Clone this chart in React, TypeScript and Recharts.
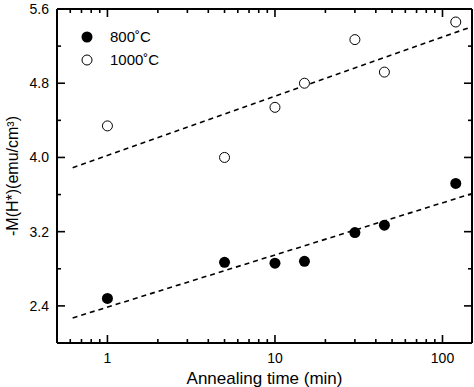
import React from "react";
import { ComposedChart, Scatter, XAxis, YAxis, Legend } from "recharts";

const times = [1, 5, 10, 15, 30, 45, 120];
const values800 = [2.48, 2.87, 2.86, 2.88, 3.19, 3.27, 3.72];
const values1000 = [4.34, 4.0, 4.54, 4.8, 5.27, 4.92, 5.46];
const fitX = [0.62, 150];
const fit800 = [2.27, 3.61];
const fit1000 = [3.89, 5.41];

const xTicks = [0.6, 0.7, 0.8, 0.9, 1, 2, 3, 4, 5, 6, 7, 8, 9, 10, 20, 30, 40, 50, 60, 70, 80, 90, 100];
const xMajor = [1, 10, 100];
const yTicks = [2.0, 2.4, 2.8, 3.2, 3.6, 4.0, 4.4, 4.8, 5.2, 5.6];
const yMajor = [2.4, 3.2, 4.0, 4.8, 5.6];

const data800 = times.map((t, i) => ({ x: t, y: values800[i] }));
const data1000 = times.map((t, i) => ({ x: t, y: values1000[i] }));
const line800 = fitX.map((t, i) => ({ x: t, y: fit800[i] }));
const line1000 = fitX.map((t, i) => ({ x: t, y: fit1000[i] }));

const FONT = '"Liberation Sans", Arial, sans-serif';
const MAJ = 8;
const MIN = 4;
const TW = 1.6;

const isYMajor = (v: number) => yMajor.some((m) => Math.abs(m - v) < 1e-6);

const BottomTick = (p: any) => {
  const v = p.payload.value;
  const major = xMajor.includes(v);
  const x = Number(p.x);
  const y = Number(p.y);
  const len = major ? MAJ : MIN;
  return (
    <g>
      <rect x={x - TW / 2} y={y - len} width={TW} height={len} fill="#000" />
      {major && (
        <text x={x} y={y + 20} textAnchor="middle" fontSize={14} fontFamily={FONT} fill="#000">
          {v}
        </text>
      )}
    </g>
  );
};
const TopTick = (p: any) => {
  const v = p.payload.value;
  const major = xMajor.includes(v);
  const x = Number(p.x);
  const y = Number(p.y);
  return <rect x={x - TW / 2} y={y} width={TW} height={major ? MAJ : MIN} fill="#000" />;
};
const LeftTick = (p: any) => {
  const v = p.payload.value;
  const major = isYMajor(v);
  const x = Number(p.x);
  const y = Number(p.y);
  return (
    <g>
      <rect x={x} y={y - TW / 2} width={major ? MAJ : MIN} height={TW} fill="#000" />
      {major && (
        <text x={x - 8} y={y + 5} textAnchor="end" fontSize={14} fontFamily={FONT} fill="#000">
          {v.toFixed(1)}
        </text>
      )}
    </g>
  );
};
const RightTick = (p: any) => {
  const v = p.payload.value;
  const len = isYMajor(v) ? MAJ : MIN;
  const x = Number(p.x);
  const y = Number(p.y);
  return <rect x={x - len} y={y - TW / 2} width={len} height={TW} fill="#000" />;
};

const Filled = (p: any) => <circle cx={p.cx} cy={p.cy} r={5.5} fill="#000" />;
const Open = (p: any) => <circle cx={p.cx} cy={p.cy} r={5} fill="#fff" stroke="#000" strokeWidth={1} />;
const NoShape = () => <g />;

const LegendContent = () => (
  <div style={{ fontFamily: FONT, fontSize: 15, color: "#000" }}>
    {[
      { label: "800˚C", filled: true },
      { label: "1000˚C", filled: false },
    ].map((it) => (
      <div key={it.label} style={{ display: "flex", alignItems: "center", height: 23 }}>
        <svg width={24} height={14}>
          {it.filled ? (
            <circle cx={12} cy={7} r={5.5} fill="#000" />
          ) : (
            <circle cx={12} cy={7} r={5} fill="#fff" stroke="#000" strokeWidth={1} />
          )}
        </svg>
        <span style={{ marginLeft: 11 }}>{it.label}</span>
      </div>
    ))}
  </div>
);

export default function App() {
  return (
    <div style={{ position: "absolute", left: 0, top: 0, background: "#fff" }}>
      <ComposedChart width={474} height={387} margin={{ top: 8, right: 1, bottom: 0, left: 0 }}>
        <XAxis
          xAxisId="b"
          dataKey="x"
          type="number"
          scale="log"
          domain={[0.5, 150]}
          allowDataOverflow
          ticks={xTicks}
          interval={0}
          height={44}
          tickSize={0}
          tickMargin={0}
          tickLine={false}
          tick={<BottomTick />}
          axisLine={{ stroke: "#000", strokeWidth: 2 }}
          label={{ value: "Annealing time (min)", position: "insideBottom", offset: 3, style: { fontFamily: FONT, fontSize: 17, fill: "#000" } }}
        />
        <XAxis
          xAxisId="t"
          orientation="top"
          dataKey="x"
          type="number"
          scale="log"
          domain={[0.5, 150]}
          allowDataOverflow
          ticks={xTicks}
          interval={0}
          height={1}
          tickSize={0}
          tickMargin={0}
          tickLine={false}
          tick={<TopTick />}
          axisLine={{ stroke: "#000", strokeWidth: 2 }}
        />
        <YAxis
          yAxisId="l"
          dataKey="y"
          type="number"
          domain={[2.0, 5.6]}
          allowDataOverflow
          ticks={yTicks}
          interval={0}
          width={57}
          tickSize={0}
          tickMargin={0}
          tickLine={false}
          tick={<LeftTick />}
          axisLine={{ stroke: "#000", strokeWidth: 2 }}
          label={{ value: "-M(H*)(emu/cm³)", angle: -90, position: "insideLeft", offset: 12, style: { textAnchor: "middle", fontFamily: FONT, fontSize: 16, fill: "#000" } }}
        />
        <YAxis
          yAxisId="r"
          orientation="right"
          dataKey="y"
          type="number"
          domain={[2.0, 5.6]}
          allowDataOverflow
          ticks={yTicks}
          interval={0}
          width={1}
          tickSize={0}
          tickMargin={0}
          tickLine={false}
          tick={<RightTick />}
          axisLine={{ stroke: "#000", strokeWidth: 2 }}
        />
        <Legend
          layout="vertical"
          verticalAlign="middle"
          align="center"
          wrapperStyle={{ top: 25, left: 75, width: 150 }}
          content={<LegendContent />}
        />
        <Scatter xAxisId="b" yAxisId="l" data={line800} shape={<NoShape />} line={{ stroke: "#000", strokeWidth: 1.6, strokeDasharray: "5 4" }} isAnimationActive={false} legendType="none" />
        <Scatter xAxisId="b" yAxisId="l" data={line1000} shape={<NoShape />} line={{ stroke: "#000", strokeWidth: 1.6, strokeDasharray: "5 4" }} isAnimationActive={false} legendType="none" />
        <Scatter xAxisId="b" yAxisId="l" data={data800} shape={<Filled />} isAnimationActive={false} />
        <Scatter xAxisId="b" yAxisId="l" data={data1000} shape={<Open />} isAnimationActive={false} />
      </ComposedChart>
    </div>
  );
}
